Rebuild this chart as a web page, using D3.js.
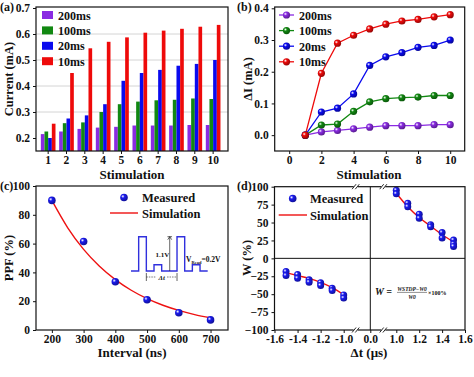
<!DOCTYPE html>
<html>
<head>
<meta charset="utf-8">
<script src="https://cdn.jsdelivr.net/npm/d3@7"></script>
<style>
  body { margin: 0; background: #fff; }
  svg { display: block; }
  text { font-family: "Liberation Serif", "DejaVu Serif", serif; font-weight: bold; fill: #111; }
  .axis path, .axis line { stroke: #111; stroke-width: 1; }
  .axis text { font-size: 11.5px; font-family: "Liberation Serif", serif; font-weight: bold; fill: #111; }
</style>
</head>
<body>
<svg id="chart" width="474" height="377"></svg>
<script>
// ---- data ----
const stims = [1, 2, 3, 4, 5, 6, 7, 8, 9, 10];
const seriesNames = ["200ms", "100ms", "20ms", "10ms"];
const seriesColors = ["#8a2be2", "#118811", "#0a0aee", "#ee0a0a"];

const cur200 = [0.215, 0.225, 0.235, 0.240, 0.243, 0.248, 0.248, 0.248, 0.250, 0.250];
const cur100 = [0.225, 0.257, 0.260, 0.300, 0.330, 0.340, 0.345, 0.347, 0.352, 0.350];
const cur20  = [0.200, 0.275, 0.287, 0.330, 0.420, 0.450, 0.462, 0.478, 0.485, 0.500];
const cur10  = [0.255, 0.450, 0.545, 0.570, 0.587, 0.605, 0.613, 0.620, 0.628, 0.635];

const dI200 = [0, 0.010, 0.015, 0.020, 0.025, 0.030, 0.030, 0.030, 0.033, 0.033];
const dI100 = [0, 0.032, 0.035, 0.075, 0.105, 0.115, 0.118, 0.120, 0.125, 0.125];
const dI20  = [0, 0.073, 0.085, 0.130, 0.220, 0.247, 0.260, 0.277, 0.283, 0.300];
const dI10  = [0, 0.195, 0.290, 0.315, 0.335, 0.350, 0.360, 0.365, 0.373, 0.380];

const intervals = [200, 300, 400, 500, 600, 700];
const ppfMeasured = [90, 61.5, 33.5, 21, 12, 7];
const simIntervals = [200, 250, 300, 350, 400, 450, 500, 550, 600, 650, 700];
const ppfSim = [90, 71, 56, 44.3, 35, 27.6, 21.8, 17.2, 13.6, 10.7, 8.5];

const dtPos = [1.0, 1.0, 1.1, 1.1, 1.2, 1.2, 1.3, 1.3, 1.4, 1.4, 1.5, 1.5, 1.5];
const wPos  = [95, 90, 77, 72, 61.7, 56, 47, 44, 36, 28.3, 25.5, 20, 16.7];
const dtNeg = [-1.5, -1.5, -1.4, -1.4, -1.3, -1.3, -1.2, -1.2, -1.1, -1.1, -1.0, -1.0];
const wNeg  = [-18.5, -24, -22.6, -27.8, -30, -33.3, -34, -38, -41.7, -45, -51, -55.5];
const simDtPos = [1.0, 1.1, 1.2, 1.3, 1.4, 1.5];
const simWPos  = [91, 72, 57, 45, 33, 23];
const simDtNeg = [-1.5, -1.4, -1.3, -1.2, -1.1, -1.0];
const simWNeg  = [-20, -24, -28, -33.5, -41, -51];

const dTicks = [-1.6, -1.4, -1.2, -1.0, 0.0, 1.0, 1.2, 1.4, 1.6];

// inset pulse schematic (time units, volts)
const pulseT = [0, 1, 1, 2, 2, 3, 3, 4, 4, 6, 6, 7, 7, 8, 8, 9, 9, 10];
const pulseV = [0, 0, 1.1, 1.1, 0, 0, 0.2, 0.2, 0, 0, 1.1, 1.1, 0, 0, 0.2, 0.2, 0, 0];

const svg = d3.select("#chart");
const defs = svg.append("defs");

function sphere(id, color) {
  const g = defs.append("radialGradient").attr("id", id)
    .attr("cx", "35%").attr("cy", "35%").attr("r", "65%");
  g.append("stop").attr("offset", "0%").attr("stop-color", "#fff");
  g.append("stop").attr("offset", "35%").attr("stop-color", color);
  g.append("stop").attr("offset", "100%").attr("stop-color", d3.color(color).darker(1.2));
}
seriesColors.forEach((c, i) => sphere("sph" + i, c));
sphere("sphBlue", "#1a1aee");

function frame(x0, y0, x1, y1) {
  svg.append("rect").attr("x", x0).attr("y", y0).attr("width", x1 - x0).attr("height", y1 - y0)
    .attr("fill", "none").attr("stroke", "#111").attr("stroke-width", 1.2);
}

// ================= (a) =================
const aL = 36, aR = 228, aT = 8, aB = 151;
const ya = d3.scaleLinear().domain([0.15, 0.7]).range([aB, aT]);
const xa = d3.scaleBand().domain(stims).range([39, 222.3]);
const xin = d3.scaleBand().domain(seriesNames).range([xa.bandwidth() * 0.1, xa.bandwidth() * 0.9]);

svg.append("g").selectAll("line").data([0.3, 0.4, 0.5, 0.6]).join("line")
  .attr("x1", aL).attr("x2", aR).attr("y1", d => ya(d)).attr("y2", d => ya(d))
  .attr("stroke", "#d4d4d4").attr("stroke-width", 1);

const curSeries = [cur200, cur100, cur20, cur10];
curSeries.forEach((vals, si) => {
  svg.append("g").selectAll("rect").data(vals).join("rect")
    .attr("x", (d, i) => xa(stims[i]) + xin(seriesNames[si]))
    .attr("width", xin.bandwidth())
    .attr("y", d => ya(d))
    .attr("height", d => aB - ya(d))
    .attr("fill", seriesColors[si]);
});

svg.append("g").attr("class", "axis").attr("transform", `translate(${aL},0)`)
  .call(d3.axisLeft(ya).tickValues([0.2, 0.3, 0.4, 0.5, 0.6, 0.7]).tickFormat(d3.format(".1f")).tickSize(3).tickPadding(3))
  .call(g => g.select(".domain").remove());
svg.append("g").attr("class", "axis").attr("transform", `translate(0,${aB})`)
  .call(d3.axisBottom(xa).tickSize(3).tickPadding(2))
  .call(g => g.select(".domain").remove());
frame(aL, aT - 1, aR, aB);

seriesNames.forEach((n, i) => {
  const yy = 15 + i * 15.4;
  svg.append("rect").attr("x", 42).attr("y", yy - 4).attr("width", 11).attr("height", 8).attr("fill", seriesColors[i]);
  svg.append("text").attr("x", 58).attr("y", yy + 4.5).attr("font-size", 12).text(n);
});
svg.append("text").attr("transform", "translate(13,79) rotate(-90)").attr("text-anchor", "middle")
  .attr("font-size", 12.5).text("Current (mA)");
svg.append("text").attr("x", 132).attr("y", 179).attr("text-anchor", "middle").attr("font-size", 13).text("Stimulation");
svg.append("text").attr("x", 0).attr("y", 11).attr("font-size", 12).text("(a)");

// ================= (b) =================
const bL = 274.7, bR = 464.7, bT = 8, bB = 151;
const xb = d3.scaleLinear().domain([-0.9, 10.9]).range([bL, bR]);
const yb = d3.scaleLinear().domain([-0.05, 0.4]).range([bB, 8.3]);
const dISeries = [dI200, dI100, dI20, dI10];
const lineB = d3.line().x((d, i) => xb(stims[i])).y(d => yb(d));
[3, 2, 1, 0].forEach(si => {
  svg.append("path").datum(dISeries[si]).attr("d", lineB)
    .attr("fill", "none").attr("stroke", seriesColors[si]).attr("stroke-width", 1.3);
});
[0, 1, 2, 3].forEach(si => {
  svg.append("g").selectAll("circle").data(dISeries[si]).join("circle")
    .attr("cx", (d, i) => xb(stims[i])).attr("cy", d => yb(d)).attr("r", 3.6)
    .attr("fill", `url(#sph${si})`);
});
svg.append("g").attr("class", "axis").attr("transform", `translate(${bL},0)`)
  .call(d3.axisLeft(yb).tickValues([0, 0.1, 0.2, 0.3, 0.4]).tickFormat(d3.format(".1f")).tickSize(3).tickPadding(3))
  .call(g => g.select(".domain").remove());
svg.append("g").attr("class", "axis").attr("transform", `translate(0,${bB})`)
  .call(d3.axisBottom(xb).tickValues([0, 2, 4, 6, 8, 10]).tickSize(3).tickPadding(2))
  .call(g => g.select(".domain").remove());
frame(bL, bT - 1, bR, bB);

seriesNames.forEach((n, i) => {
  const yy = 15 + i * 15.6;
  svg.append("line").attr("x1", 279).attr("x2", 294).attr("y1", yy).attr("y2", yy)
    .attr("stroke", seriesColors[i]).attr("stroke-width", 1.3);
  svg.append("circle").attr("cx", 286.5).attr("cy", yy).attr("r", 3.6).attr("fill", `url(#sph${i})`);
  svg.append("text").attr("x", 299).attr("y", yy + 4.5).attr("font-size", 12).text(n);
});
svg.append("text").attr("transform", "translate(252,79) rotate(-90)").attr("text-anchor", "middle")
  .attr("font-size", 12.5).text("ΔI (mA)");
svg.append("text").attr("x", 369).attr("y", 179).attr("text-anchor", "middle").attr("font-size", 13).text("Stimulation");
svg.append("text").attr("x", 237).attr("y", 11).attr("font-size", 12).text("(b)");

// ================= (c) =================
const cL = 36, cR = 228, cT = 186, cB = 330;
const xc = d3.scaleLinear().domain([150, 755]).range([cL, cR]);
const yc = d3.scaleLinear().domain([0, 100]).range([cB, cT]);
svg.append("path").datum(simIntervals)
  .attr("d", d3.line().x(d => xc(d)).y((d, i) => yc(ppfSim[i])).curve(d3.curveMonotoneX))
  .attr("fill", "none").attr("stroke", "#ee1111").attr("stroke-width", 1.4);
svg.append("g").selectAll("circle").data(intervals).join("circle")
  .attr("cx", d => xc(d)).attr("cy", (d, i) => yc(ppfMeasured[i])).attr("r", 3.8)
  .attr("fill", "url(#sphBlue)");
svg.append("g").attr("class", "axis").attr("transform", `translate(${cL},0)`)
  .call(d3.axisLeft(yc).tickValues([0, 20, 40, 60, 80, 100]).tickSize(3).tickPadding(3))
  .call(g => g.select(".domain").remove());
svg.append("g").attr("class", "axis").attr("transform", `translate(0,${cB})`)
  .call(d3.axisBottom(xc).tickValues(intervals).tickSize(3).tickPadding(2))
  .call(g => g.select(".domain").remove());
frame(cL, cT, cR, cB);

svg.append("circle").attr("cx", 124).attr("cy", 197.5).attr("r", 3.8).attr("fill", "url(#sphBlue)");
svg.append("text").attr("x", 142).attr("y", 202).attr("font-size", 12.5).text("Measured");
svg.append("line").attr("x1", 110).attr("x2", 138).attr("y1", 213).attr("y2", 213)
  .attr("stroke", "#ee1111").attr("stroke-width", 1.4);
svg.append("text").attr("x", 142).attr("y", 217.5).attr("font-size", 12.5).text("Simulation");

// inset waveform
const xp = d3.scaleLinear().domain([0, 10]).range([131, 207.7]);
const yp = d3.scaleLinear().domain([0, 1.1]).range([271, 236.7]);
svg.append("path").datum(pulseT)
  .attr("d", d3.line().x(d => xp(d)).y((d, i) => yp(pulseV[i])))
  .attr("fill", "none").attr("stroke", "#3030dd").attr("stroke-width", 1.4);
// 1.1V arrow
svg.append("line").attr("x1", xp(5.05)).attr("x2", xp(5.05)).attr("y1", yp(1.1)).attr("y2", yp(0))
  .attr("stroke", "#222").attr("stroke-width", 0.7);
svg.append("line").attr("x1", xp(4.75)).attr("x2", xp(5.35)).attr("y1", yp(1.1)).attr("y2", yp(1.1))
  .attr("stroke", "#222").attr("stroke-width", 0.7);
svg.append("path").attr("d", `M${xp(5.05) - 2},${yp(1.1) + 3} L${xp(5.05)},${yp(1.1)} L${xp(5.05) + 2},${yp(1.1) + 3}`)
  .attr("fill", "none").attr("stroke", "#222").attr("stroke-width", 0.7);
svg.append("text").attr("x", xp(5.0)).attr("y", 257).attr("text-anchor", "end").attr("font-size", 7).text("1.1V");
// Δt arrow
const dtY = 277;
[xp(2), xp(6)].forEach(xx => svg.append("line").attr("x1", xx).attr("x2", xx).attr("y1", 273).attr("y2", 281)
  .attr("stroke", "#222").attr("stroke-width", 0.7));
svg.append("line").attr("x1", xp(2)).attr("x2", xp(3.3)).attr("y1", dtY).attr("y2", dtY).attr("stroke", "#222").attr("stroke-width", 0.6).attr("stroke-dasharray", "1.5,1");
svg.append("line").attr("x1", xp(4.7)).attr("x2", xp(6)).attr("y1", dtY).attr("y2", dtY).attr("stroke", "#222").attr("stroke-width", 0.6).attr("stroke-dasharray", "1.5,1");
svg.append("text").attr("x", xp(4)).attr("y", 279.5).attr("text-anchor", "middle").attr("font-size", 7).attr("font-style", "italic").text("Δt");
// Vread label
const vr = svg.append("text").attr("x", 186).attr("y", 262).attr("font-size", 7.5);
vr.append("tspan").text("V");
vr.append("tspan").attr("font-size", 4.5).attr("dy", 1.5).text("Read");
vr.append("tspan").attr("dy", -1.5).text("=0.2V");

svg.append("text").attr("transform", "translate(13,258) rotate(-90)").attr("text-anchor", "middle")
  .attr("font-size", 12.5).text("PPF (%)");
svg.append("text").attr("x", 132).attr("y", 357).attr("text-anchor", "middle").attr("font-size", 13).text("Interval (ns)");
svg.append("text").attr("x", 0).attr("y", 190).attr("font-size", 12).text("(c)");

// ================= (d) =================
const dL = 274.5, dR = 465, dT = 186.7, dB = 330;
const xd = d3.scaleLinear().domain([-1.6, -1.0, 0, 1.0, 1.6]).range([dL, 343.7, 370.3, 396.3, dR]);
const yd = d3.scaleLinear().domain([-100, 100]).range([dB, dT]);

// crosshair at origin
svg.append("line").attr("x1", xd(0)).attr("x2", xd(0)).attr("y1", dT).attr("y2", dB).attr("stroke", "#111").attr("stroke-width", 1);
svg.append("line").attr("x1", dL).attr("x2", dR).attr("y1", yd(0)).attr("y2", yd(0)).attr("stroke", "#111").attr("stroke-width", 1);

const lineD = d3.line().x(d => xd(d[0])).y(d => yd(d[1])).curve(d3.curveMonotoneX);
svg.append("path").datum(simDtPos.map((d, i) => [d, simWPos[i]])).attr("d", lineD)
  .attr("fill", "none").attr("stroke", "#ee1111").attr("stroke-width", 1.4);
svg.append("path").datum(simDtNeg.map((d, i) => [d, simWNeg[i]])).attr("d", lineD)
  .attr("fill", "none").attr("stroke", "#ee1111").attr("stroke-width", 1.4);
svg.append("g").selectAll("circle").data(dtPos).join("circle")
  .attr("cx", d => xd(d)).attr("cy", (d, i) => yd(wPos[i])).attr("r", 3.5).attr("fill", "url(#sphBlue)");
svg.append("g").selectAll("circle").data(dtNeg).join("circle")
  .attr("cx", d => xd(d)).attr("cy", (d, i) => yd(wNeg[i])).attr("r", 3.5).attr("fill", "url(#sphBlue)");

svg.append("g").attr("class", "axis").attr("transform", `translate(${dL},0)`)
  .call(d3.axisLeft(yd).tickValues([-100, -75, -50, -25, 0, 25, 50, 75, 100]).tickSize(3).tickPadding(3))
  .call(g => g.select(".domain").remove());
svg.append("g").attr("class", "axis").attr("transform", `translate(0,${dB})`)
  .call(d3.axisBottom(xd).tickValues(dTicks).tickFormat(d3.format(".1f")).tickSize(3).tickPadding(2))
  .call(g => g.selectAll("text").text(d => d < 0 ? "-" + d3.format(".1f")(-d) : d3.format(".1f")(d)))
  .call(g => g.select(".domain").remove());
frame(dL, dT, dR, dB);

// axis break marks
[-0.55, 0.5].forEach(v => {
  [dT, dB].forEach(yy => {
    const cx = xd(v);
    svg.append("rect").attr("x", cx - 2).attr("y", yy - 1.5).attr("width", 4).attr("height", 3).attr("fill", "#fff");
    [-1.6, 1.6].forEach(o => svg.append("line")
      .attr("x1", cx + o - 2).attr("y1", yy + 2.5).attr("x2", cx + o + 2).attr("y2", yy - 2.5)
      .attr("stroke", "#111").attr("stroke-width", 0.9));
  });
});

svg.append("circle").attr("cx", 292.7).attr("cy", 198.5).attr("r", 3.8).attr("fill", "url(#sphBlue)");
svg.append("text").attr("x", 310).attr("y", 203).attr("font-size", 12.5).text("Measured");
svg.append("line").attr("x1", 278.7).attr("x2", 307).attr("y1", 215).attr("y2", 215)
  .attr("stroke", "#ee1111").attr("stroke-width", 1.4);
svg.append("text").attr("x", 310).attr("y", 219.5).attr("font-size", 12.5).text("Simulation");

// formula
const fx = 375, fy = 295;
svg.append("text").attr("x", fx).attr("y", fy).attr("font-size", 10).attr("font-style", "italic").text("W =");
svg.append("text").attr("x", 412).attr("y", fy - 4).attr("text-anchor", "middle").attr("font-size", 5.5).attr("font-style", "italic").text("WSTDP−W0");
svg.append("line").attr("x1", 397).attr("x2", 427).attr("y1", fy - 2.6).attr("y2", fy - 2.6).attr("stroke", "#222").attr("stroke-width", 0.5);
svg.append("text").attr("x", 412).attr("y", fy + 3.5).attr("text-anchor", "middle").attr("font-size", 5.5).attr("font-style", "italic").text("W0");
svg.append("text").attr("x", 428).attr("y", fy - 0.5).attr("font-size", 6).attr("font-weight", "normal").text("×100%");

svg.append("text").attr("transform", "translate(251,258) rotate(-90)").attr("text-anchor", "middle")
  .attr("font-size", 12.5).text("W (%)");
svg.append("text").attr("x", 369).attr("y", 357).attr("text-anchor", "middle").attr("font-size", 13).text("Δt (μs)");
svg.append("text").attr("x", 237).attr("y", 190).attr("font-size", 12).text("(d)");
</script>
</body>
</html>
